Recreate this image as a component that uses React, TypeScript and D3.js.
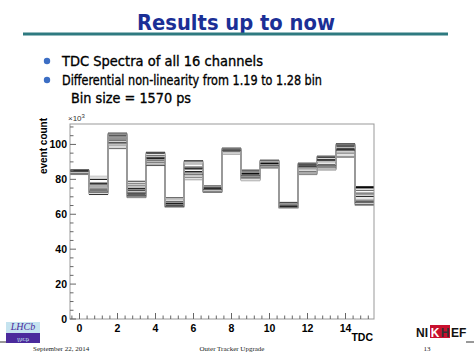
import * as d3 from 'd3'

// TDC counts (x10^3) per bin, one value per channel
const bin0 = [84.6, 83.2, 85.3, 84.1, 83.8, 82.7, 84.9, 83.5, 85.0, 84.3, 82.9, 83.9, 84.7, 83.3, 84.0, 85.5]
const bin1 = [74.5, 78.2, 71.3, 81.8, 75.6, 73.1, 79.9, 72.4, 76.8, 80.7, 74.0, 71.9, 77.5, 73.6, 75.1, 72.8]
const bin2 = [104.8, 100.2, 106.5, 98.0, 103.1, 101.6, 105.4, 99.2, 102.4, 104.1, 97.6, 105.9, 100.9, 103.7, 99.8, 106.0]
const bin3 = [74.8, 70.2, 78.9, 72.6, 76.3, 69.4, 73.5, 77.6, 71.4, 75.5, 69.8, 78.2, 72.1, 74.1, 76.9, 70.7]
const bin4 = [91.8, 88.2, 94.9, 90.1, 92.7, 89.0, 95.5, 91.2, 93.6, 88.6, 90.7, 94.1, 92.2, 89.6, 93.1, 87.9]
const bin5 = [66.2, 64.1, 68.9, 65.4, 67.3, 63.9, 69.4, 66.8, 65.0, 68.1, 64.6, 67.8, 66.0, 65.7, 69.0, 64.3]
const bin6 = [84.5, 80.0, 90.7, 82.3, 87.1, 79.6, 85.9, 88.8, 81.2, 83.6, 90.1, 80.6, 86.4, 84.0, 89.5, 82.9]
const bin7 = [74.9, 72.6, 76.4, 73.8, 75.2, 72.9, 76.0, 74.4, 73.1, 75.6, 74.7, 73.4, 75.0, 72.5, 76.2, 74.1]
const bin8 = [96.2, 94.5, 97.9, 95.4, 96.8, 94.9, 97.4, 95.9, 96.5, 94.4, 97.1, 95.1, 96.0, 97.7, 95.7, 96.6]
const bin9 = [81.3, 79.2, 85.3, 82.4, 83.9, 79.6, 84.6, 80.5, 82.9, 81.8, 85.0, 80.0, 83.3, 81.0, 84.2, 82.1]
const bin10 = [88.6, 86.5, 91.0, 87.4, 89.8, 86.8, 90.4, 88.0, 89.3, 87.1, 90.7, 88.3, 89.0, 86.6, 90.1, 87.8]
const bin11 = [64.9, 63.4, 66.8, 64.2, 65.6, 63.6, 66.3, 65.1, 64.5, 65.9, 63.8, 66.0, 64.7, 65.3, 63.3, 66.5]
const bin12 = [84.7, 82.7, 89.3, 85.6, 87.9, 83.4, 88.6, 84.2, 86.4, 83.9, 89.0, 85.1, 87.2, 83.0, 86.0, 88.2]
const bin13 = [88.4, 85.3, 93.3, 89.8, 91.5, 86.1, 92.6, 87.3, 90.6, 85.8, 93.0, 88.9, 91.1, 86.7, 90.2, 87.8]
const bin14 = [98.6, 92.6, 100.4, 96.1, 99.6, 93.4, 97.8, 94.7, 99.2, 95.3, 100.1, 93.9, 97.2, 92.9, 98.2, 96.6]
const bin15 = [71.6, 65.0, 75.9, 68.6, 73.7, 66.2, 70.2, 74.8, 67.4, 72.5, 65.6, 69.4, 75.3, 68.0, 71.0, 66.8]

const bins = [bin0, bin1, bin2, bin3, bin4, bin5, bin6, bin7, bin8, bin9, bin10, bin11, bin12, bin13, bin14, bin15]
const channelColors = [
  '#111', '#999', '#333', '#bbb', '#555', '#ccc', '#222', '#888',
  '#444', '#aaa', '#666', '#ddd', '#000', '#777', '#bbb', '#555',
]

const xTicks = [0, 2, 4, 6, 8, 10, 12, 14]
const yTicks = [0, 20, 40, 60, 80, 100]

const bullets = ['TDC Spectra of all 16 channels', 'Differential non-linearity from 1.19 to 1.28 bin']

export default function App() {
  const width = 474
  const height = 355
  const x = d3.scaleLinear().domain([-0.5, 15.5]).range([70, 374])
  const y = d3.scaleLinear().domain([0, 111.7]).range([319, 124])
  const [x0, x1] = x.range()
  const [yb, yt] = y.range()

  const xMinor = d3.range(-0.4, 15.5, 0.4)
  const yMinor = d3.range(0, 111, 5)
  const nCh = bin0.length

  const tickFont = { fontFamily: 'Liberation Sans, Arial, sans-serif', fontWeight: 700, fontSize: 10.5 }
  const bulletFont = { fontFamily: 'DejaVu Sans, sans-serif', fontSize: 14, fill: '#000', stroke: '#000', strokeWidth: 0.35 }

  return (
    <svg width={width} height={height} style={{ position: 'absolute', left: 0, top: 0, background: '#fff' }}>
      {/* title */}
      <text x={236} y={30} textAnchor="middle" fill="#1b2f96" fontFamily="DejaVu Sans, sans-serif" fontWeight={700} fontSize={22} textLength={198} lengthAdjust="spacingAndGlyphs">
        Results up to now
      </text>
      <line x1={23} x2={448} y1={34} y2={34} stroke="#2e7a80" strokeWidth={3} />

      {/* bullets */}
      {bullets.map((t, i) => (
        <g key={t}>
          <circle cx={47} cy={61 + i * 19} r={3.2} fill="#3c6ec4" />
          <text x={62} y={66 + i * 19} {...bulletFont} textLength={i === 0 ? 201 : 260} lengthAdjust="spacingAndGlyphs">
            {t}
          </text>
        </g>
      ))}
      <text x={71} y={103} {...bulletFont} textLength={120} lengthAdjust="spacingAndGlyphs">
        Bin size = 1570 ps
      </text>

      {/* histograms: one step line per channel */}
      {d3.range(nCh).map((c) => (
        <g key={c}>
          {bins.map((b, i) =>
            i > 0 ? (
              <line key={'v' + i} x1={x(i - 0.5)} x2={x(i - 0.5)} y1={y(bins[i - 1][c])} y2={y(b[c])} stroke="#999" strokeWidth={1} />
            ) : null
          )}
          {bins.map((b, i) => (
            <line key={'h' + i} x1={x(i - 0.5)} x2={x(i + 0.5)} y1={y(b[c])} y2={y(b[c])} stroke={channelColors[c]} strokeWidth={1} />
          ))}
        </g>
      ))}

      {/* frame */}
      <rect x={x0} y={yt} width={x1 - x0} height={yb - yt} fill="none" stroke="#999" strokeWidth={1} />

      {/* y axis */}
      {yMinor.map((v) => (
        <line key={'ym' + v} x1={x0} x2={x0 + (v % 20 === 0 ? 6 : 3.5)} y1={y(v)} y2={y(v)} stroke="#666" />
      ))}
      {yTicks.map((v) => (
        <text key={'yl' + v} x={67} y={y(v) + 4} textAnchor="end" fill="#000" {...tickFont}>
          {v}
        </text>
      ))}
      <text x={68} y={121} fontFamily="Liberation Sans, Arial, sans-serif" fontSize={8} fill="#333">
        ×10<tspan dy={-3} fontSize={6}>3</tspan>
      </text>
      <text transform="translate(47,146) rotate(-90)" textAnchor="middle" fontFamily="Liberation Sans, Arial, sans-serif" fontWeight={700} fontSize={10} fill="#000">
        event count
      </text>

      {/* x axis */}
      {xMinor.map((v) => {
        const major = Math.abs(v / 2 - Math.round(v / 2)) < 0.01
        return <line key={'xm' + v.toFixed(1)} x1={x(v)} x2={x(v)} y1={yb} y2={yb - (major ? 6 : 3.5)} stroke="#666" />
      })}
      {xTicks.map((v) => (
        <text key={'xl' + v} x={x(v)} y={yb + 13} textAnchor="middle" fill="#000" {...tickFont}>
          {v}
        </text>
      ))}
      <text x={373} y={341} textAnchor="end" fill="#000" {...tickFont}>
        TDC
      </text>

      {/* footer */}
      <text x={33} y={351} fontFamily="Liberation Serif, serif" fontSize={7} fill="#222">September 22, 2014</text>
      <text x={232} y={351} textAnchor="middle" fontFamily="Liberation Serif, serif" fontSize={7} fill="#222">Outer Tracker Upgrade</text>
      <text x={427} y={351} textAnchor="middle" fontFamily="Liberation Serif, serif" fontSize={7} fill="#222">13</text>
      <line x1={0} x2={12} y1={342} y2={342} stroke="#333" />
      <line x1={466} x2={474} y1={342} y2={342} stroke="#333" />

      {/* LHCb logo: light upper half with the name, purple lower half with its mirror */}
      <rect x={6} y={322} width={34} height={11} fill="#c5e3ef" />
      <rect x={6} y={333} width={34} height={10} fill="#4b2a9c" />
      <text x={23} y={330} textAnchor="middle" fontFamily="Liberation Serif, serif" fontStyle="italic" fontSize={10} fill="#4b2a9c">
        LHCb
      </text>
      <g transform="translate(23,338) scale(1,-1)">
        <text x={0} y={0} textAnchor="middle" fontFamily="Liberation Serif, serif" fontStyle="italic" fontSize={7} fill="#c5e3ef">
          lhcb
        </text>
      </g>

      {/* NIKHEF logo */}
      <text x={416} y={337} fontFamily="Liberation Sans, Arial, sans-serif" fontWeight={700} fontSize={12} fill="#111">NI</text>
      <rect x={430} y={325} width={10} height={13} fill="#c8102e" />
      <text x={435} y={337} textAnchor="middle" fontFamily="Liberation Sans, Arial, sans-serif" fontWeight={700} fontSize={12} fill="#fff">K</text>
      <rect x={440} y={325} width={10} height={13} fill="#c8102e" />
      <text x={445} y={337} textAnchor="middle" fontFamily="Liberation Sans, Arial, sans-serif" fontWeight={700} fontSize={12} fill="#333">H</text>
      <text x={451} y={337} fontFamily="Liberation Sans, Arial, sans-serif" fontWeight={700} fontSize={12} fill="#111">EF</text>
    </svg>
  )
}
